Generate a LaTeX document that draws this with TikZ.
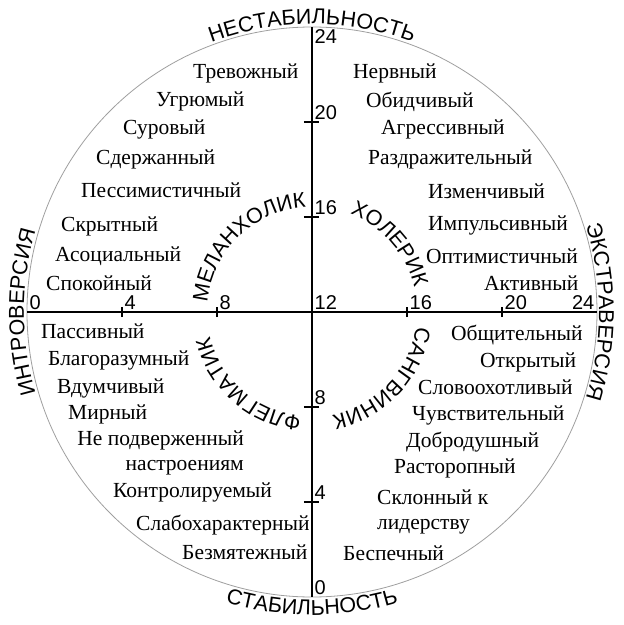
\documentclass[tikz,border=0pt]{standalone}
\usepackage{fontspec}
\setmainfont{Liberation Serif}
\setsansfont{Liberation Sans}
\usetikzlibrary{decorations.text, positioning}

\begin{document}
\begin{tikzpicture}[x=1pt,y=1pt,
  trait/.style={font=\fontsize{21.5}{25}\selectfont, inner sep=0pt, text height=15pt, text depth=0pt},
  traittwo/.style={font=\fontsize{21.5}{25}\selectfont, inner sep=0pt},
  num/.style={font=\sffamily\fontsize{20}{20}\selectfont, inner sep=2.5pt},
  axis/.style={line width=1.3pt},
  tickmark/.style={line width=1.2pt},
  arclabel/.style={decorate, decoration={text along path, text align=center,
    text={|\sffamily\fontsize{21.5}{21.5}\selectfont|#1}}}]
   \useasboundingbox (-312,-313) rectangle (312,312);
   % circle and axes
   \draw[gray!75, line width=0.8pt] (0,0) circle[radius=285];
   \coordinate (W) at (180:285);
   \coordinate (E) at (0:285);
   \coordinate (N) at (90:285);
   \coordinate (S) at (270:285);
   \draw[axis] (W) -- (E);
   \draw[axis] (N) -- (S);
   % scales
   \foreach \v/\a in {0/south west, 4/south west, 8/south west, 12/south west,
                      16/south west, 20/south west, 24/south east} {
      \coordinate (hx\v) at ({(\v-12)*23.75},0);
      \node[num, anchor=\a] (hl\v) at (hx\v) {\v};
   }
   \foreach \v/\a in {0/south west, 4/south west, 8/south west,
                      16/south west, 20/south west, 24/north west} {
      \coordinate (vy\v) at (0,{(\v-12)*23.75});
      \node[num, anchor=\a] (vl\v) at (vy\v) {\v};
   }
   \foreach \v in {4,8,16,20} {
      \draw[tickmark] ([yshift=-5]hx\v) -- ([yshift=5]hx\v);
      \draw[tickmark] ([xshift=-8]vy\v) -- ([xshift=7]vy\v);
   }
   % outer labels
   \path[arclabel=НЕСТАБИЛЬНОСТЬ] (150:288) arc[start angle=150, end angle=30, radius=288];
   \path[arclabel=ЭКСТРАВЕРСИЯ] (60:287) arc[start angle=60, end angle=-60, radius=287];
   \path[arclabel=СТАБИЛЬНОСТЬ] (240:303) arc[start angle=240, end angle=300, radius=303];
   \path[arclabel=ИНТРОВЕРСИЯ] (240:288) arc[start angle=240, end angle=120, radius=288];
   % temperaments
   \path[arclabel=МЕЛАНХОЛИК] (184:105) arc[start angle=184, end angle=84, radius=105];
   \path[arclabel=ХОЛЕРИК] (91:105) arc[start angle=91, end angle=-9, radius=105];
   \path[arclabel=САНГВИНИК] (6.5:105) arc[start angle=6.5, end angle=-93.5, radius=105];
   \path[arclabel=ФЛЕГМАТИК] (-81:105) arc[start angle=-81, end angle=-181, radius=105];
   % traits
   \foreach \x/\y/\w [count=\i] in {-119/241/Тревожный, -156/213/Угрюмый, -189/185/Суровый,
        -216/155/Сдержанный, -231/122/Пессимистичный, -251/88/Скрытный,
        -257/58/Асоциальный, -266/29/Спокойный}
      \node[trait, anchor=west] (mel\i) at (\x,\y) {\w};
   \foreach \x/\y/\w [count=\i] in {41/241/Нервный, 54/212/Обидчивый, 69/185/Агрессивный,
        56/155/Раздражительный, 116/121/Изменчивый, 116/89/Импульсивный,
        114/56/Оптимистичный, 172/29/Активный}
      \node[trait, anchor=west] (chol\i) at (\x,\y) {\w};
   \foreach \x/\y/\w [count=\i] in {-271/-19/Пассивный, -264/-46/Благоразумный,
        -255/-74/Вдумчивый, -244/-100/Мирный, -199/-178/Контролируемый,
        -176/-211/Слабохарактерный, -130/-240/Безмятежный}
      \node[trait, anchor=west] (phl\i) at (\x,\y) {\w};
   \node[traittwo, align=right, anchor=north east] (phl8) at (-68,-119) {Не подверженный\\настроениям};
   \foreach \x/\y/\w [count=\i] in {139/-21/Общительный, 168/-48/Открытый,
        106/-75/Словоохотливый, 100/-101/Чувствительный, 94/-128/Добродушный,
        82/-154/Расторопный, 31/-241/Беспечный}
      \node[trait, anchor=west] (san\i) at (\x,\y) {\w};
   \node[traittwo, align=left, anchor=north west] (san8) at (65,-178) {Склонный к\\лидерству};
\end{tikzpicture}
\end{document}
